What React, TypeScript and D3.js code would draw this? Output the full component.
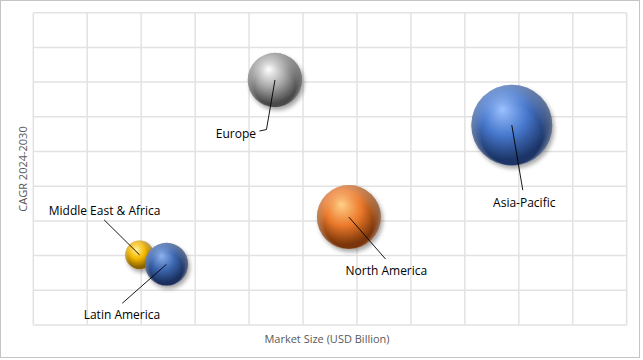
import * as d3 from 'd3';

// regions and their values (grid units, axes carry no tick labels)
const regions = ['Middle East & Africa', 'Latin America', 'Europe', 'North America', 'Asia-Pacific'];
const marketSize = [1.97, 2.47, 4.48, 5.85, 8.87];
const cagr = [2.02, 1.75, 7.06, 3.11, 5.76];
const bubbleSize = [12.5, 28.2, 45.1, 62.4, 100];

// sphere colours: highlight, mid, edge
const palette = [
    ['#fff2a0', '#f5b800', '#8a6400'],
    ['#8fb3ee', '#3d67b0', '#1a2f5c'],
    ['#ffffff', '#a8a8a8', '#4a4a4a'],
    ['#ffd08a', '#ec7a2c', '#7a3508'],
    ['#9cc2ff', '#4677cc', '#1c3566'],
];

// label placement relative to bubble centre: leader bend points, text anchor
const labelLayout = [
    { leader: [[-35.4, -35]], text: [-35, -44], anchor: 'middle' },
    { leader: [[-44.3, 39]], text: [-44.6, 50.4], anchor: 'middle' },
    { leader: [[-8.5, 49.5], [-15.5, 51]], text: [-19, 53], anchor: 'end' },
    { leader: [[36.7, 42]], text: [37.5, 53], anchor: 'middle' },
    { leader: [[11, 65]], text: [12.5, 77], anchor: 'middle' },
];

const width = 643;
const height = 360;
const plot = { left: 33.3, top: 12.7, right: 626.7, bottom: 325 };
const xTicks = d3.range(0, 12);
const yTicks = d3.range(0, 10);

export default function App() {
    const x = d3.scaleLinear().domain([0, 11]).range([plot.left, plot.right]);
    const y = d3.scaleLinear().domain([0, 9]).range([plot.bottom, plot.top]);
    const r = d3.scaleSqrt().domain([0, 100]).range([0, 40.5]);
    const font = '"Open Sans", "Liberation Sans", sans-serif';

    const points = regions.map((name, i) => ({
        name,
        cx: x(marketSize[i]),
        cy: y(cagr[i]),
        r: r(bubbleSize[i]),
        colors: palette[i],
        layout: labelLayout[i],
    }));

    return <div>
        <style>{`body{margin:0}`}</style>
        <svg width={width} height={height} style={{ display: 'block' }}>
            <defs>
                <filter id='shadow' x='-30%' y='-30%' width='160%' height='160%'>
                    <feDropShadow dx='2' dy='3' stdDeviation='2' floodColor='#000' floodOpacity='0.35' />
                </filter>
                {points.map((p, i) => (
                    <radialGradient key={i} id={`g${i}`} cx='0.45' cy='0.42' r='0.62' fx='0.38' fy='0.3'>
                        <stop offset='0' stopColor={p.colors[0]} />
                        <stop offset='0.45' stopColor={p.colors[1]} />
                        <stop offset='0.85' stopColor={p.colors[2]} />
                        <stop offset='1' stopColor={p.colors[2]} />
                    </radialGradient>
                ))}
                <radialGradient id='rim' cx='0.5' cy='0.5' r='0.5' fx='0.5' fy='0.95'>
                    <stop offset='0' stopColor='#fff' stopOpacity='0' />
                    <stop offset='0.75' stopColor='#fff' stopOpacity='0' />
                    <stop offset='1' stopColor='#fff' stopOpacity='0.3' />
                </radialGradient>
            </defs>
            <rect x={0.5} y={0.5} width={639} height={357} fill='#fff' stroke='#c4c4c4' />
            <g stroke='#e2e2e2' strokeWidth={1.5}>
                {xTicks.map(t => <line key={'x' + t} x1={x(t)} x2={x(t)} y1={plot.top} y2={plot.bottom} />)}
                {yTicks.map(t => <line key={'y' + t} x1={plot.left} x2={plot.right} y1={y(t)} y2={y(t)} />)}
            </g>
            {points.map((p, i) => (
                <g key={p.name}>
                    <circle cx={p.cx} cy={p.cy} r={p.r} fill={`url(#g${i})`} filter='url(#shadow)' />
                    <circle cx={p.cx} cy={p.cy} r={p.r} fill='url(#rim)' />
                </g>
            ))}
            <g fill='none' stroke='#000' strokeWidth={0.9}>
                {points.map(p => {
                    const pts = [[p.cx, p.cy], ...p.layout.leader.map(([dx, dy]) => [p.cx + dx, p.cy + dy])];
                    return <path key={p.name} d={d3.line()(pts as [number, number][]) ?? ''} />;
                })}
            </g>
            <g fontFamily={font} fontSize={12} fill='#000'>
                {points.map(p => (
                    <text key={p.name} x={p.cx + p.layout.text[0]} y={p.cy + p.layout.text[1]}
                        textAnchor={p.layout.anchor} dominantBaseline='central'>{p.name}</text>
                ))}
            </g>
            <text x={327} y={338} textAnchor='middle' dominantBaseline='central' fontFamily={font}
                fontSize={11} fill='#595959'>Market Size (USD Billion)</text>
            <text transform='translate(22,169) rotate(-90)' textAnchor='middle' dominantBaseline='central'
                fontFamily={font} fontSize={11} fill='#595959'>CAGR 2024-2030</text>
        </svg>
    </div>;
}
